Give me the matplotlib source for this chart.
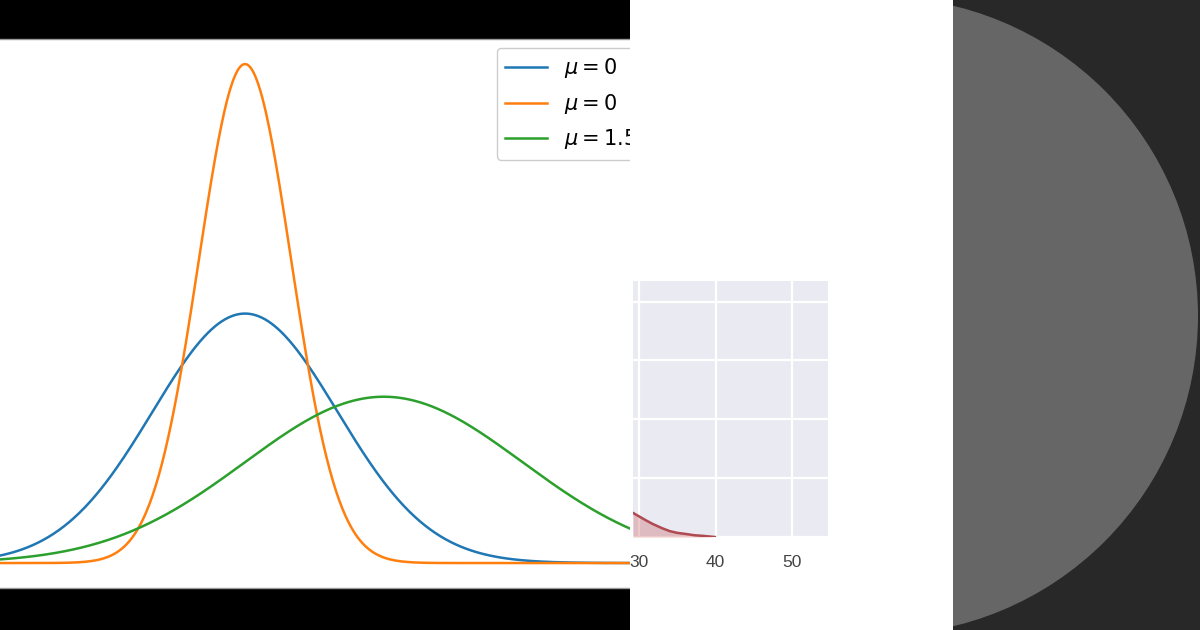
import numpy as np
import matplotlib
matplotlib.use("Agg")
import matplotlib.pyplot as plt
from matplotlib.patches import Circle

W, H = 1200, 630

# left panel: normal densities
MU     = [0.0, 0.0, 1.5]
SIGMA  = [1.0, 0.5, 1.5]
LABELS = [r"$\mu = 0$", r"$\mu = 0$", r"$\mu = 1.5$"]
COLORS = ["#1f77b4", "#ff7f0e", "#2ca02c"]

# middle panel: tail of a kde
KDE_X = [29.2, 30.0, 30.8, 31.8, 33.0, 34.0, 35.0, 36.2, 37.2, 38.3, 39.9]
KDE_Y = [0.0041, 0.0035, 0.0029, 0.0022, 0.0015, 0.0010, 0.0007, 0.0005,
         0.0003, 0.0002, 0.0]
MID_TICKS = [30, 40, 50]


def px_rect(x0, y0, x1, y1):
    # pixel box (top-left origin) -> figure fraction rect
    return [x0 / W, 1 - y1 / H, (x1 - x0) / W, (y1 - y0) / H]


def bare(ax):
    ax.set_xticks([])
    ax.set_yticks([])
    for s in ax.spines.values():
        s.set_visible(False)


fig = plt.figure(figsize=(W / 100, H / 100), dpi=100, facecolor="white")

# black letterbox behind the left plot
ax_bg = fig.add_axes(px_rect(0, 0, 630, 630))
ax_bg.set_facecolor("black")
bare(ax_bg)

# left plot
ax = fig.add_axes(px_rect(0, 39, 630, 588))
ax.set_facecolor("white")
x = np.linspace(-3.5, 5.5, 800)
for mu, sd, lab, col in zip(MU, SIGMA, LABELS, COLORS):
    pdf = np.exp(-0.5 * ((x - mu) / sd) ** 2) / (sd * np.sqrt(2 * np.pi))
    ax.plot(x, pdf, color=col, lw=1.8, label=lab)
ax.set_xlim(-2.649, 4.162)
ax.set_ylim(-0.0399, 0.838)
ax.set_xticks([])
ax.set_yticks([])
for side in ["left", "right"]:
    ax.spines[side].set_visible(False)
for side in ["top", "bottom"]:
    ax.spines[side].set_color("#9a9a9a")
    ax.spines[side].set_linewidth(1.0)
ax.legend(loc="upper left", bbox_to_anchor=(497 / W, 1 - 48 / H),
          bbox_transform=fig.transFigure, borderaxespad=0, fontsize=15,
          labelspacing=0.55, framealpha=1.0)

# middle white strip (covers legend overflow)
ax_mid_bg = fig.add_axes(px_rect(630, 0, 953, 630))
ax_mid_bg.set_facecolor("white")
bare(ax_mid_bg)
ax_mid_bg.set_zorder(5)

# seaborn-like axes fragment
ax_m = fig.add_axes(px_rect(633, 281, 828, 537))
ax_m.set_zorder(6)
ax_m.set_facecolor("#eaeaf2")
ax_m.fill_between(KDE_X, KDE_Y, 0, color="#c44e52", alpha=0.3, lw=0)
ax_m.plot(KDE_X, KDE_Y, color="#b04a50", lw=1.8)
ax_m.set_xlim(29.2, 54.7)
ax_m.set_ylim(0, 0.0435)
ax_m.set_xticks(MID_TICKS)
ax_m.set_yticks([0.0, 0.01, 0.02, 0.03, 0.04])
ax_m.set_yticklabels([])
ax_m.grid(True, color="white", lw=1.6)
ax_m.set_axisbelow(True)
ax_m.tick_params(length=0, pad=13, labelsize=12.5, labelcolor="#444444")
for lbl in ax_m.get_xticklabels():
    lbl.set_family("Liberation Sans")
for s in ax_m.spines.values():
    s.set_visible(False)

# right dark panel with grey disc
ax_r = fig.add_axes(px_rect(953, 0, 1200, 630))
ax_r.set_zorder(6)
ax_r.set_facecolor("#282828")
ax_r.set_xlim(953, 1200)
ax_r.set_ylim(630, 0)
ax_r.add_patch(Circle((879, 316), 319, color="#666666", lw=0))
bare(ax_r)

fig.savefig("out.png", dpi=100)
plt.close(fig)
